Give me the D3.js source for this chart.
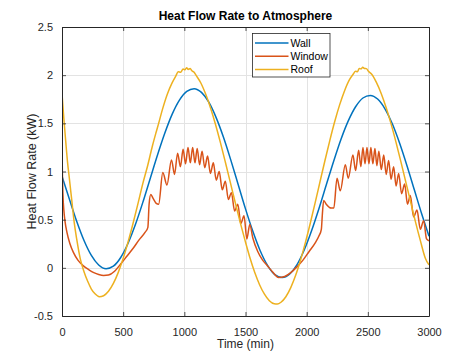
<!DOCTYPE html>
<html>
<head>
<meta charset="utf-8">
<script src="https://cdn.jsdelivr.net/npm/d3@7"></script>
<style>
  html, body { margin: 0; padding: 0; background: #ffffff; }
  svg { display: block; }
  text { font-family: "Liberation Sans", Arial, Helvetica, sans-serif; }
</style>
</head>
<body>
<script>
// ---------------- DATA ----------------
const seriesNames = ["Wall", "Window", "Roof"];

const xTicks = [0, 500, 1000, 1500, 2000, 2500, 3000];
const yTicks = [-0.5, 0, 0.5, 1, 1.5, 2, 2.5];
const yTickLabels = ["-0.5", "0", "0.5", "1", "1.5", "2", "2.5"];

const wallTime = [0,60,120,180,240,300,360,420,480,540,600,660,720,780,840,900,960,1020,1080,
  1140,1200,1260,1320,1380,1440,1500,1560,1620,1680,1740,1800,1860,1920,1980,2040,2100,2160,
  2220,2280,2340,2400,2460,2520,2580,2640,2700,2760,2820,2880,2940,3000];
const wallFlow = [0.95,0.715,0.484,0.284,0.129,0.029,-0.01,0.017,0.107,0.255,0.449,0.677,0.923,
  1.169,1.397,1.593,1.741,1.832,1.86,1.821,1.719,1.559,1.355,1.118,0.865,0.612,0.379,0.178,0.026,
  -0.07,-0.1,-0.065,0.031,0.185,0.384,0.613,0.859,1.104,1.332,1.525,1.672,1.763,1.79,1.752,1.651,
  1.495,1.293,1.06,0.81,0.561,0.329];

const windowTime = [0,3,8,15,25,40,65,93,130,175,220,260,300,340,380,430,480,530,580,630,680,702,
  712,726,745,770,790,824,858,895,920,945,968,990,1010,1030,1049,1068,1087,1105,1125,1145,1167,
  1190,1213,1237,1261,1285,1310,1335,1360,1385,1411,1437,1462,1488,1511,1535,1560,1600,1640,1680,
  1720,1770,1820,1870,1920,1970,2020,2070,2100,2120,2128,2139,2160,2200,2222,2248,2275,2316,2340,
  2378,2400,2425,2443,2460,2477,2493,2509,2525,2541,2558,2574,2590,2610,2630,2650,2670,2690,2711,
  2731,2752,2776,2801,2824,2847,2874,2902,2929,2956,2980,3000];
const windowFlow = [1.29,1.0,0.75,0.6,0.48,0.37,0.25,0.16,0.08,0.02,-0.02,-0.05,-0.07,-0.08,-0.075,
  -0.035,0.04,0.12,0.2,0.29,0.37,0.42,
  0.66,0.76,0.72,0.67,0.66,0.99,0.86,1.12,0.97,1.19,1.05,1.23,1.08,1.25,1.09,1.25,1.09,1.24,1.07,
  1.21,1.04,1.16,0.98,1.09,0.91,1.0,0.81,0.9,0.71,0.78,0.59,0.66,0.46,0.54,0.3,0.45,0.31,0.17,0.08,
  0.02,-0.04,-0.1,-0.09,-0.05,0.01,0.08,0.17,0.26,0.33,0.4,0.55,0.7,0.66,0.62,0.62,0.93,0.8,1.07,
  0.93,1.17,1.01,1.22,1.05,1.25,1.08,1.25,1.08,1.25,1.08,1.24,1.06,1.21,1.02,1.17,0.97,1.115,0.92,
  1.05,0.85,0.98,0.77,0.87,0.66,0.75,0.53,0.6,0.4,0.49,0.3,0.28];

const roofTime = [0,15,30,45,60,80,100,120,150,180,210,240,270,305,340,380,420,460,500,540,580,620,
  660,700,740,770,790,820,860,900,930,950,970,990,1005,1018,1032,1048,1062,1080,1095,1135,1175,
  1215,1255,1295,1335,1375,1415,1455,1495,1535,1575,1615,1655,1695,1735,1760,1790,1830,1870,1910,
  1950,1990,2030,2070,2110,2150,2190,2230,2270,2310,2350,2380,2400,2415,2430,2445,2458,2472,2488,
  2505,2530,2570,2610,2650,2690,2730,2770,2810,2850,2890,2930,2970,3000];
const roofFlow = [1.81,1.55,1.32,1.1,0.93,0.7,0.47,0.3,0.09,-0.04,-0.14,-0.22,-0.27,-0.3,-0.29,-0.244,
  -0.162,-0.047,0.098,0.268,0.458,0.661,0.871,1.06,1.27,1.41,1.5,1.64,1.8,1.92,1.99,2.035,2.03,
  2.065,2.055,2.078,2.06,2.068,2.045,2.03,2.0,1.919,1.801,1.657,1.488,1.3,1.099,0.892,0.683,0.48,
  0.29,0.11,-0.046,-0.175,-0.274,-0.342,-0.374,-0.376,-0.357,-0.3,-0.205,-0.078,0.081,0.264,0.465,
  0.679,0.899,1.117,1.326,1.521,1.694,1.839,1.953,2.01,2.04,2.035,2.07,2.065,2.082,2.07,2.068,2.04,
  2.012,1.925,1.808,1.662,1.494,1.305,1.103,0.893,0.683,0.475,0.28,0.1,0.03];

// ---------------- CHART ----------------
const W = 474, H = 355;
const plot = { left: 62, right: 429, top: 27, bottom: 316 };
const colors = ["#0072BD", "#D95319", "#EDB120"];
const axisColor = "#262626";

const svg = d3.select("body").append("svg").attr("width", W).attr("height", H);
svg.append("rect").attr("width", W).attr("height", H).attr("fill", "#fff");

const x = d3.scaleLinear().domain([0, 3000]).range([plot.left, plot.right]);
const y = d3.scaleLinear().domain([-0.5, 2.5]).range([plot.bottom, plot.top]);

// grid
const grid = svg.append("g");
grid.selectAll("line.v").data(xTicks.slice(1, -1)).join("line")
  .attr("x1", d => Math.round(x(d)) + 0.5).attr("x2", d => Math.round(x(d)) + 0.5)
  .attr("y1", plot.top).attr("y2", plot.bottom)
  .attr("stroke", "#e3e3e3").attr("stroke-width", 1);
grid.selectAll("line.h").data(yTicks.slice(1, -1)).join("line")
  .attr("y1", d => Math.round(y(d)) + 0.5).attr("y2", d => Math.round(y(d)) + 0.5)
  .attr("x1", plot.left).attr("x2", plot.right)
  .attr("stroke", "#e3e3e3").attr("stroke-width", 1);

// clip
svg.append("clipPath").attr("id", "clip").append("rect")
  .attr("x", plot.left).attr("y", plot.top)
  .attr("width", plot.right - plot.left).attr("height", plot.bottom - plot.top);

const series = [
  { name: seriesNames[0], t: wallTime, v: wallFlow },
  { name: seriesNames[1], t: windowTime, v: windowFlow },
  { name: seriesNames[2], t: roofTime, v: roofFlow }
];

const line = d3.line().x(d => x(d[0])).y(d => y(d[1])).curve(d3.curveMonotoneX);
const lines = svg.append("g").attr("clip-path", "url(#clip)");
series.forEach((s, i) => {
  lines.append("path")
    .datum(s.t.map((t, k) => [t, s.v[k]]))
    .attr("fill", "none")
    .attr("stroke", colors[i])
    .attr("stroke-width", 1.5)
    .attr("stroke-linejoin", "round")
    .attr("d", line);
});

// axes (MATLAB style: inward ticks, mirrored)
const tickLen = 4;
const xAxisB = d3.axisBottom(x).tickValues(xTicks).tickSizeInner(-tickLen).tickSizeOuter(0)
  .tickPadding(tickLen + 8).tickFormat(d3.format("d"));
const gxb = svg.append("g").attr("transform", `translate(0,${plot.bottom})`).call(xAxisB);
const xAxisT = d3.axisTop(x).tickValues(xTicks).tickSizeInner(-tickLen).tickSizeOuter(0).tickFormat("");
const gxt = svg.append("g").attr("transform", `translate(0,${plot.top})`).call(xAxisT);

const yAxisL = d3.axisLeft(y).tickValues(yTicks).tickSizeInner(-tickLen).tickSizeOuter(0)
  .tickPadding(tickLen + 5).tickFormat((d, i) => yTickLabels[i]);
const gyl = svg.append("g").attr("transform", `translate(${plot.left},0)`).call(yAxisL);
const yAxisR = d3.axisRight(y).tickValues(yTicks).tickSizeInner(-tickLen).tickSizeOuter(0).tickFormat("");
const gyr = svg.append("g").attr("transform", `translate(${plot.right},0)`).call(yAxisR);

[gxb, gxt, gyl, gyr].forEach(g => {
  g.select(".domain").attr("stroke", axisColor).attr("stroke-width", 1);
  g.selectAll(".tick line").attr("stroke", axisColor).attr("stroke-width", 0.8);
  g.selectAll(".tick text").attr("fill", axisColor)
    .style("font-family", '"Liberation Sans", Arial, sans-serif').style("font-size", "11px");
});

// title and labels
svg.append("text").attr("x", 245.5).attr("y", 19.5).attr("text-anchor", "middle")
  .style("font-size", "12px").style("font-weight", "bold").attr("fill", "#000")
  .text("Heat Flow Rate to Atmosphere");
svg.append("text").attr("x", 245.5).attr("y", 348).attr("text-anchor", "middle")
  .style("font-size", "12px").attr("fill", axisColor).text("Time (min)");
svg.append("text").attr("transform", `translate(36,${(plot.top + plot.bottom) / 2}) rotate(-90)`)
  .attr("text-anchor", "middle").style("font-size", "12.5px").attr("fill", axisColor)
  .text("Heat Flow Rate (kW)");

// legend
const lg = svg.append("g");
lg.append("rect").attr("x", 252.5).attr("y", 33.5).attr("width", 77.5).attr("height", 43.5)
  .attr("fill", "#fff").attr("stroke", axisColor).attr("stroke-width", 0.8);
seriesNames.forEach((n, i) => {
  const ly = 43 + i * 13.2;
  lg.append("line").attr("x1", 255).attr("x2", 288.5).attr("y1", ly).attr("y2", ly)
    .attr("stroke", colors[i]).attr("stroke-width", 1.5);
  lg.append("text").attr("x", 290.5).attr("y", ly).attr("dy", "0.35em")
    .style("font-size", "10.5px").attr("fill", "#000").text(n);
});
</script>
</body>
</html>
